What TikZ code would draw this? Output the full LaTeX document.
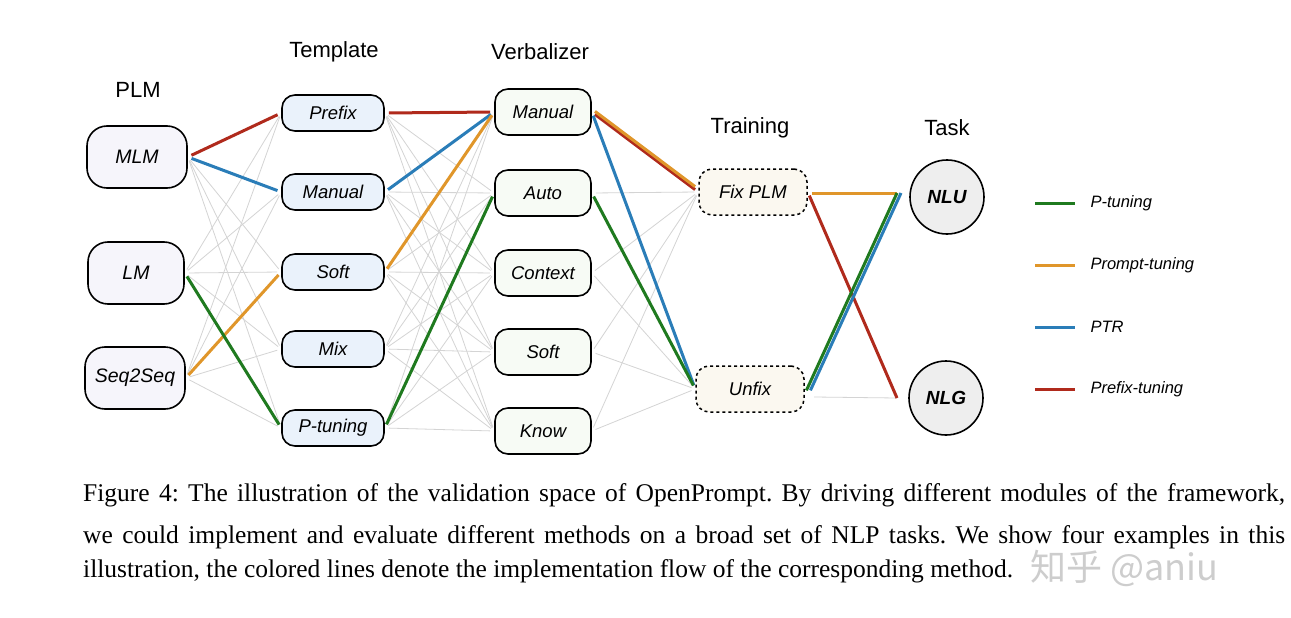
\documentclass[tikz,border=0pt]{standalone}
\usepackage{fontspec}
\setmainfont{Liberation Serif}
\setsansfont{Liberation Sans}
\newfontfamily\cjk{Noto Sans CJK SC}
\usetikzlibrary{calc}
\frenchspacing
\definecolor{cred}{HTML}{B02A1C}
\definecolor{cblue}{HTML}{2A7DB8}
\definecolor{corange}{HTML}{E0962A}
\definecolor{cgreen}{HTML}{1F7A1F}
\definecolor{cgray}{HTML}{D4D4D4}
\begin{document}
\begin{tikzpicture}[x=1pt,y=-1pt,
  box/.style={draw,line width=1.6pt,rounded corners=13pt,font=\sffamily\itshape\fontsize{18.5}{20}\selectfont,inner sep=0pt},
  plm/.style={box,fill={rgb,255:red,246;green,245;blue,251},minimum width=100pt,minimum height=62pt,rounded corners=20pt,font=\sffamily\itshape\fontsize{19.5}{21}\selectfont},
  tpl/.style={box,fill={rgb,255:red,234;green,242;blue,251},minimum width=102pt,minimum height=36pt},
  vrb/.style={box,fill={rgb,255:red,247;green,251;blue,245},minimum width=96pt,minimum height=46pt},
  trn/.style={box,dashed,line width=1.5pt,fill={rgb,255:red,251;green,248;blue,240},minimum width=108pt,minimum height=46pt},
  tsk/.style={draw,circle,line width=1.6pt,fill={rgb,255:red,238;green,238;blue,238},minimum size=74pt,inner sep=0pt,font=\sffamily\bfseries\itshape\fontsize{19}{21}\selectfont},
  ttl/.style={font=\sffamily\fontsize{22}{24}\selectfont},
  gl/.style={cgray,line width=0.8pt,shorten <=4pt,shorten >=4pt},
  cl/.style={line width=3pt,shorten <=4pt,shorten >=4pt},
  leg/.style={font=\sffamily\itshape\fontsize{16.5}{18}\selectfont,anchor=west},
  captxt/.style={font=\fontsize{25.5}{28}\selectfont,anchor=west,inner sep=0pt}]
\useasboundingbox[fill=white] (0,0) rectangle (1291,618);
% titles
\node[ttl] (tplm) at (138,90) {PLM};
\node[ttl] (ttpl) at (334,52) {Template};
\node[ttl] (tvrb) at (540,52) {Verbalizer};
\node[ttl] (ttrn) at (750,128) {Training};
\node[ttl] (ttsk) at (947,128) {Task};
% nodes
\node[plm] (mlm) at (137,157) {MLM};
\node[plm,minimum width=96pt] (lm) at (136,273) {LM};
\node[plm] (s2s) at (135,378) {Seq2Seq};
\node[tpl] (tprefix) at (333,113) {Prefix};
\node[tpl] (tmanual) at (333,192) {Manual};
\node[tpl] (tsoft) at (333,272) {Soft};
\node[tpl] (tmix) at (333,349) {Mix};
\node[tpl] (tpt) at (333,428) {P-tuning};
\node[vrb] (vmanual) at (543,112) {Manual};
\node[vrb] (vauto) at (543,193) {Auto};
\node[vrb] (vcontext) at (543,273) {Context};
\node[vrb] (vsoft) at (543,352) {Soft};
\node[vrb] (vknow) at (543,431) {Know};
\node[trn] (fix) at (753,192) {Fix PLM};
\node[trn] (unfix) at (750,389) {Unfix};
\node[tsk] (nlu) at (947,197) {NLU};
\node[tsk] (nlg) at (946,398) {NLG};
\coordinate (nluin) at (897,193);
\coordinate (nluin2) at (901,193);
\coordinate (nlgin) at (897,398);
\coordinate (unfixout2) at (814,397);
% gray mesh
\foreach \a in {mlm,lm,s2s}{\foreach \b in {tprefix,tmanual,tsoft,tmix,tpt}{\draw[gl] (\a.east) -- (\b.west);}}
\foreach \a in {tprefix,tmanual,tsoft,tmix,tpt}{\foreach \b in {vmanual,vauto,vcontext,vsoft,vknow}{\draw[gl] (\a.east) -- (\b.west);}}
\foreach \a in {vmanual,vauto,vcontext,vsoft,vknow}{\foreach \b in {fix,unfix}{\draw[gl] (\a.east) -- (\b.west);}}
\draw[gl,shorten <=0pt,shorten >=0pt] (unfixout2) -- (nlgin);
% Prefix-tuning (red)
\draw[cl,cred] (mlm.east) -- (tprefix.west);
\draw[cl,cred] (tprefix.east) -- (vmanual.west);
\draw[cl,cred] (vmanual.east) -- (fix.west);
\draw[cl,cred,shorten >=0pt] (fix.east) -- (nlgin);
% PTR (blue)
\draw[cl,cblue] (mlm.east) -- (tmanual.west);
\draw[cl,cblue] (tmanual.east) -- (vmanual.west);
\draw[cl,cblue] (vmanual.east) -- (unfix.west);
\draw[cl,cblue,shorten >=0pt] ($(unfix.east)+(4,5)$) -- (nluin2);
% Prompt-tuning (orange)
\draw[cl,corange] (s2s.east) -- (tsoft.west);
\draw[cl,corange] (tsoft.east) -- (vmanual.west);
\draw[cl,corange] ($(vmanual.east)+(0,-3)$) -- ($(fix.west)+(0,-3)$);
\draw[cl,corange,shorten >=0pt] ($(fix.east)+(0,1)$) -- (nluin);
% P-tuning (green)
\draw[cl,cgreen] (lm.east) -- (tpt.west);
\draw[cl,cgreen] (tpt.east) -- (vauto.west);
\draw[cl,cgreen] (vauto.east) -- (unfix.west);
\draw[cl,cgreen,shorten >=0pt] ($(unfix.east)+(0,5)$) -- (nluin);
% legend
\foreach \y/\c/\t/\n in {203/cgreen/P-tuning/la,265/corange/Prompt-tuning/lb,327/cblue/PTR/lc,389/cred/Prefix-tuning/ld}{
  \coordinate (\n s) at (1035,\y);
  \coordinate (\n e) at (1075,\y);
  \draw[line width=3pt,\c] (\n s) -- (\n e);
  \node[leg] (\n) at (1087,\y) {\t};
}
% caption
\node[captxt] (c1) at (83,495) {\hbox to 1202pt{Figure 4: The illustration of the validation space of OpenPrompt. By driving different modules of the framework,}};
\node[captxt] (c2) at (83,537) {\hbox to 1202pt{we could implement and evaluate different methods on a broad set of NLP tasks. We show four examples in this}};
\node[captxt] (c3) at (83,571) {illustration, the colored lines denote the implementation flow of the corresponding method.};
\node[font=\cjk\fontsize{36}{38}\selectfont,text={rgb,255:red,205;green,205;blue,205},anchor=west,inner sep=0pt] (wm) at (1030,568) {知乎 @aniu};
\end{tikzpicture}
\end{document}
